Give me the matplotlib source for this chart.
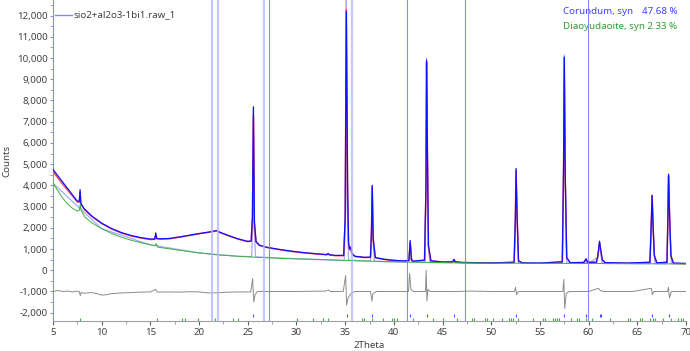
"""
XRD Rietveld plot: sio2+al2o3-1bi1 (observed, calculated, background, difference)
"""

import matplotlib
matplotlib.use('Agg')
import matplotlib.pyplot as plt
from matplotlib.ticker import MultipleLocator, FuncFormatter

plt.rcParams['font.family'] = ['Noto Sans', 'DejaVu Sans']

obs_2theta = [5.0, 5.5, 6.0, 6.5, 7.0, 7.5, 7.7, 7.78, 7.86, 8.2, 9.0, 10.0, 11.0, 12.0, 13.0, 14.0,
              15.0, 15.45, 15.55, 15.65, 16.0, 17.0, 18.0, 19.0, 20.0, 21.0, 21.8, 22.2, 23.0, 24.0,
              25.0, 25.35, 25.48, 25.58, 25.68, 25.85, 26.2, 27.0, 28.0, 29.0, 30.0, 31.0, 32.0,
              33.1, 33.25, 33.4, 34.0, 34.85, 35.0, 35.12, 35.25, 35.35, 35.45, 35.55, 35.7, 36.0,
              37.0, 37.6, 37.7, 37.78, 37.88, 38.1, 39.0, 40.0, 41.0, 41.55, 41.68, 41.8, 42.0,
              43.15, 43.3, 43.36, 43.45, 43.55, 43.8, 45.0, 46.05, 46.18, 46.3, 47.0, 50.0,
              52.35, 52.48, 52.55, 52.65, 52.8, 53.2, 55.0, 57.3, 57.43, 57.5, 57.6, 57.75, 58.1,
              59.5, 59.74, 59.9, 60.8, 60.95, 61.12, 61.25, 61.4, 61.7, 64.0, 66.3, 66.45, 66.52,
              66.62, 66.75, 67.0, 68.05, 68.15, 68.21, 68.32, 68.45, 68.7, 70.0]
obs_counts = [4750, 4450, 4150, 3850, 3550, 3250, 3250, 3800, 3150, 2900, 2550, 2220, 1970, 1780, 1640, 1540,
              1470, 1470, 1760, 1500, 1480, 1500, 1570, 1650, 1730, 1800, 1870, 1780, 1640, 1480,
              1360, 1380, 2600, 7700, 2300, 1350, 1180, 1080, 1000, 930, 870, 820, 780,
              740, 800, 730, 700, 700, 2500, 12200, 4000, 1300, 1000, 1100, 800, 660,
              610, 620, 1800, 4000, 1500, 600, 520, 470, 440, 470, 1400, 500, 430,
              480, 4000, 9900, 5500, 1200, 450, 390, 400, 520, 400, 370, 350,
              380, 2500, 4800, 2700, 450, 350, 340, 400, 5000, 10050, 4500, 600, 360,
              370, 540, 380, 380, 700, 1370, 950, 500, 360, 340, 380, 2500, 3540,
              2100, 700, 350, 380, 2800, 4530, 2500, 700, 340, 320]
calc_counts = [4650, 4350, 4050, 3780, 3500, 3220, 3200, 3650, 3150, 2870, 2530, 2200, 1950, 1760, 1620, 1520,
               1450, 1460, 1650, 1490, 1470, 1490, 1560, 1640, 1720, 1790, 1850, 1770, 1630, 1470,
               1350, 1370, 2400, 7300, 2200, 1330, 1170, 1070, 990, 920, 860, 810, 770,
               730, 760, 720, 690, 690, 2300, 12300, 3800, 1250, 980, 1050, 780, 650,
               600, 610, 1700, 3900, 1450, 590, 510, 460, 430, 460, 1300, 480, 420,
               470, 3800, 9800, 5400, 1150, 440, 380, 390, 500, 390, 360, 340,
               370, 2400, 4700, 2600, 430, 340, 330, 390, 4800, 10000, 4400, 580, 350,
               360, 520, 370, 370, 650, 1300, 900, 480, 350, 330, 370, 2400, 3500,
               2050, 680, 340, 370, 2700, 4450, 2450, 680, 330, 310]

# background + Diaoyudaoite (green)
bg_2theta = [5.0, 5.5, 6.0, 6.5, 7.0, 7.5, 7.7, 7.8, 7.9, 8.3, 9.0, 10.0, 11.0, 12.0, 13.0, 14.0,
             15.0, 15.5, 15.6, 15.75, 16.5, 18.0, 20.0, 22.0, 24.0, 26.0, 28.0, 30.0, 33.0, 36.0,
             40.0, 45.0, 50.0, 55.0, 60.0, 65.0, 70.0]
bg_counts = [4100, 3750, 3400, 3120, 2920, 2790, 2820, 3120, 2800, 2500, 2230, 1960, 1740, 1560, 1420, 1300,
             1200, 1160, 1260, 1090, 1040, 940, 820, 720, 660, 610, 570, 540, 500, 450,
             400, 360, 340, 330, 320, 310, 300]

# background + Corundum (light blue)
cor_2theta = [5.0, 10.0, 15.0, 20.0, 24.0, 25.4, 25.5, 25.58, 25.66, 25.8, 30.0, 34.9, 35.05, 35.12,
              35.2, 35.35, 37.6, 37.7, 37.78, 37.86, 38.0, 41.5, 41.62, 41.68, 41.75, 41.9, 43.2,
              43.3, 43.36, 43.45, 43.55, 43.7, 46.05, 46.18, 46.3, 52.35, 52.48, 52.55, 52.65,
              52.8, 57.3, 57.43, 57.5, 57.6, 57.75, 59.6, 59.74, 59.9, 60.95, 61.12, 61.25, 61.4,
              66.3, 66.45, 66.52, 66.62, 66.8, 68.05, 68.15, 68.21, 68.32, 68.5, 70.0]
cor_counts = [4100, 1960, 1200, 820, 660, 640, 2000, 7700, 2000, 630, 540, 460, 3000, 13500,
              3500, 470, 430, 1500, 3970, 1400, 420, 380, 900, 1350, 900, 380, 370,
              3900, 10000, 5300, 1000, 370, 350, 500, 350, 340, 2300, 4700, 2500,
              340, 330, 4800, 10150, 4300, 330, 320, 520, 320, 600, 1300, 850, 320,
              310, 2400, 3500, 2000, 310, 305, 2700, 4500, 2400, 305, 300]

# difference curve (offset)
diff_2theta = [5.0, 5.5, 6.0, 6.5, 7.0, 7.5, 7.7, 7.8, 7.9, 8.2, 9.0, 9.5, 10.0, 10.5, 11.0, 12.0,
               13.0, 14.0, 15.0, 15.55, 15.7, 17.0, 18.0, 19.0, 20.0, 21.0, 22.0, 23.0, 24.0,
               25.3, 25.5, 25.62, 25.75, 26.0, 28.0, 30.0, 33.0, 33.25, 33.5, 34.8, 35.05, 35.15,
               35.3, 35.6, 36.0, 37.6, 37.75, 37.85, 38.2, 40.0, 41.5, 41.62, 41.75, 42.0, 43.25,
               43.32, 43.4, 43.5, 43.7, 46.2, 48.0, 50.0, 52.4, 52.5, 52.6, 52.8, 55.0, 57.35,
               57.45, 57.55, 57.7, 58.0, 59.7, 60.0, 61.0, 61.2, 61.5, 63.0, 64.5, 66.45, 66.55,
               66.7, 68.1, 68.2, 68.3, 68.5, 70.0]
diff_counts = [-1000, -950, -1000, -980, -1020, -980, -1000, -1200, -1050, -1080, -1050, -1100, -1170, -1150,
               -1100, -1070, -1050, -1030, -1020, -900, -1030, -1020, -1030, -1010, -1020, -1070, -1060,
               -1030, -1020, -1020, -400, -1500, -1150, -1000, -1000, -1000, -980, -930, -1000, -1000,
               -250, -1650, -1300, -1100, -1000, -1000, -1450, -1100, -1000, -1000, -1000, -150, -900,
               -1000, -1000, 0, -1450, -900, -1000, -1000, -980, -1000, -1000, -800, -1150, -1000,
               -1000, -1000, -430, -1800, -1100, -1000, -1000, -1000, -850, -950, -1000, -1000,
               -1000, -850, -1150, -1000, -1000, -800, -1300, -1000, -1000]

# reflection markers
corundum_ticks = [25.58, 35.15, 37.78, 41.68, 43.36, 46.18, 52.55, 57.50, 59.74, 61.12, 61.30,
                  66.52, 68.21]
diaoyu_ticks = [7.8, 15.7, 18.2, 18.55, 19.9, 21.6, 23.5, 24.0, 30.05, 31.7, 32.7, 33.2, 36.7,
                36.9, 37.75, 38.9, 39.8, 40.0, 40.3, 42.0, 44.0, 45.05, 46.5, 48.0, 48.2, 49.4,
                49.6, 50.2, 51.1, 51.8, 52.0, 52.2, 52.8, 54.3, 55.3, 55.5, 56.3, 56.5, 56.8,
                57.0, 58.2, 58.8, 59.0, 59.7, 60.3, 62.2, 64.0, 64.2, 65.3, 65.5, 66.3, 66.6,
                66.8, 67.6, 68.5, 69.2, 69.5, 69.7]

# peak search markers
light_lines = [21.35, 21.9, 26.62, 35.7]
mid_lines = [27.2, 41.35, 47.3, 59.95]

fig = plt.figure(figsize=(6.9, 3.51), dpi=100)
ax = fig.add_axes([53 / 690, 30 / 351, 633 / 690, 321 / 351])

ax.plot(cor_2theta, cor_counts, color='#a8a8ff', lw=0.9, zorder=2)
ax.plot(obs_2theta, calc_counts, color='#ff5050', lw=1.1, zorder=3)
ax.plot(obs_2theta, obs_counts, color='#1010ff', lw=0.9, zorder=4)
ax.plot(bg_2theta, bg_counts, color='#3cb03c', lw=0.7, zorder=5)
ax.plot(diff_2theta, diff_counts, color='#8c8c8c', lw=0.7, zorder=3)

ax.vlines(corundum_ticks, -2220, -2060, color='#5050ff', lw=0.8, zorder=3)
ax.vlines(diaoyu_ticks, -2400, -2250, color='#40b040', lw=0.8, zorder=3)

for x in light_lines:
    ax.axvline(x, color='#b4b4ff', lw=1.6, alpha=0.75, zorder=6)
for x in mid_lines:
    ax.axvline(x, color='#7a7aff', lw=0.8, alpha=0.9, zorder=6)

ax.set_xlim(5, 70)
ax.set_ylim(-2390, 12735)

for s in ['top', 'right']:
    ax.spines[s].set_visible(False)
ax.spines['left'].set_color('#8888ff')
ax.spines['bottom'].set_color('#a0a0a0')

ax.xaxis.set_major_locator(MultipleLocator(5))
ax.xaxis.set_minor_locator(MultipleLocator(2.5))
ax.yaxis.set_major_locator(MultipleLocator(1000))
ax.yaxis.set_minor_locator(MultipleLocator(500))
ax.yaxis.set_major_formatter(FuncFormatter(lambda v, p: f'{int(v):,}'))
ax.tick_params(axis='both', labelsize=7, colors='#404040', pad=2)
ax.tick_params(axis='x', which='major', length=3, color='#606060')
ax.tick_params(axis='x', which='minor', length=2, color='#909090')
ax.tick_params(axis='y', which='both', length=2, color='#8888ff')

ax.set_xlabel('2Theta', fontsize=7, color='#404040', labelpad=3)
ax.set_ylabel('Counts', fontsize=7, color='#404040', labelpad=4)

# legends
ax.plot([5.2, 7.0], [12040, 12040], color='#8a8ae6', lw=1.0, zorder=7)
ax.text(7.1, 12040, 'sio2+al2o3-1bi1.raw_1', fontsize=7, color='#404040', va='center', zorder=7)
ax.text(0.806, 0.963, 'Corundum, syn', transform=ax.transAxes, fontsize=7, color='#4040ff', va='center')
ax.text(0.930, 0.963, '47.68 %', transform=ax.transAxes, fontsize=7, color='#4040ff', va='center')
ax.text(0.806, 0.918, 'Diaoyudaoite, syn 2.33 %', transform=ax.transAxes, fontsize=7,
        color='#2ea02e', va='center')

fig.savefig('out.png', dpi=100)
